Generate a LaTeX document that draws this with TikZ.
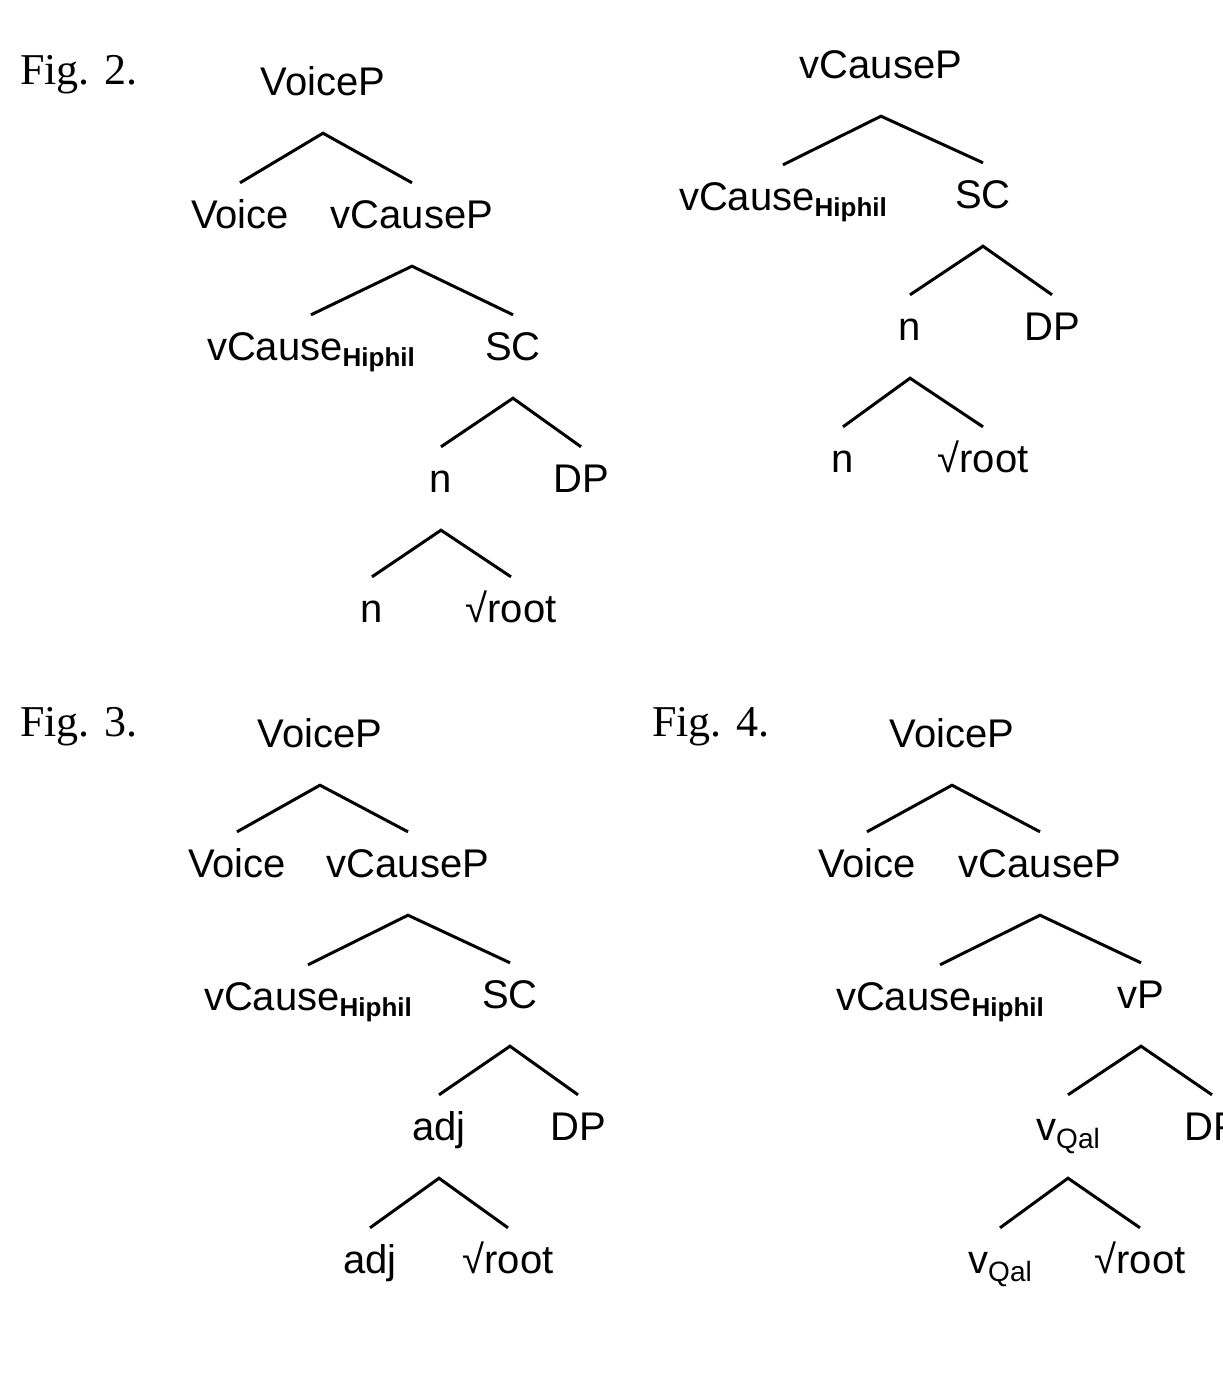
\documentclass[tikz,border=0pt]{standalone}
\usepackage{fontspec}
\setmainfont{Liberation Serif}
\newfontfamily\treefont{Liberation Sans}
\usetikzlibrary{calc}
\begin{document}
\begin{tikzpicture}[x=1pt,y=-1pt,
  lab/.style={font=\treefont\fontsize{40}{40}\selectfont,inner sep=0pt,text height=29pt,text depth=9pt},
  fig/.style={font=\fontsize{44}{44}\selectfont,anchor=west,inner sep=0pt},
  br/.style={line width=3pt}]
\useasboundingbox (0,0) rectangle (1223,1373);
\clip (0,0) rectangle (1223,1373);
\newcommand{\hiph}{\raisebox{-0.3ex}{\fontsize{26}{26}\selectfont\bfseries Hiphil}}
\newcommand{\qal}{\raisebox{-0.4ex}{\fontsize{28}{28}\selectfont Qal}}
\newcommand{\roof}[3]{\draw[br] ($(#2.north)+(0,-16)$) -- ($(#1.south)+(0,29)$) -- ($(#3.north)+(0,-16)$);}
\node[fig] (f2) at (20,75) {Fig. 2.};
\node[fig] (f3) at (20,727) {Fig. 3.};
\node[fig] (f4) at (652,727) {Fig. 4.};
% Fig 2
\node[lab] (a1) at (323,85) {VoiceP};
\node[lab] (a2) at (240,218) {Voice};
\node[lab] (a3) at (412,218) {vCauseP};
\node[lab] (a4) at (311,350) {vCause\hiph};
\node[lab] (a5) at (513,350) {SC};
\node[lab] (a6) at (441,482) {n};
\node[lab] (a7) at (581,482) {DP};
\node[lab] (a8) at (372,612) {n};
\node[lab] (a9) at (511,612) {√root};
\roof{a1}{a2}{a3}\roof{a3}{a4}{a5}\roof{a5}{a6}{a7}\roof{a6}{a8}{a9}
% top right
\node[lab] (b1) at (881,68) {vCauseP};
\node[lab] (b2) at (783,200) {vCause\hiph};
\node[lab] (b3) at (983,198) {SC};
\node[lab] (b4) at (910,330) {n};
\node[lab] (b5) at (1052,330) {DP};
\node[lab] (b6) at (843,462) {n};
\node[lab] (b7) at (983,462) {√root};
\roof{b1}{b2}{b3}\roof{b3}{b4}{b5}\roof{b4}{b6}{b7}
% Fig 3
\node[lab] (c1) at (320,737) {VoiceP};
\node[lab] (c2) at (237,867) {Voice};
\node[lab] (c3) at (408,867) {vCauseP};
\node[lab] (c4) at (308,1000) {vCause\hiph};
\node[lab] (c5) at (510,998) {SC};
\node[lab] (c6) at (439,1130) {adj};
\node[lab] (c7) at (578,1130) {DP};
\node[lab] (c8) at (370,1263) {adj};
\node[lab] (c9) at (508,1263) {√root};
\roof{c1}{c2}{c3}\roof{c3}{c4}{c5}\roof{c5}{c6}{c7}\roof{c6}{c8}{c9}
% Fig 4
\node[lab] (d1) at (952,737) {VoiceP};
\node[lab] (d2) at (867,867) {Voice};
\node[lab] (d3) at (1040,867) {vCauseP};
\node[lab] (d4) at (940,1000) {vCause\hiph};
\node[lab] (d5) at (1141,998) {vP};
\node[lab] (d6) at (1068,1130) {v\qal};
\node[lab] (d7) at (1212,1130) {DP};
\node[lab] (d8) at (1000,1263) {v\qal};
\node[lab] (d9) at (1140,1263) {√root};
\roof{d1}{d2}{d3}\roof{d3}{d4}{d5}\roof{d5}{d6}{d7}\roof{d6}{d8}{d9}
\end{tikzpicture}
\end{document}
